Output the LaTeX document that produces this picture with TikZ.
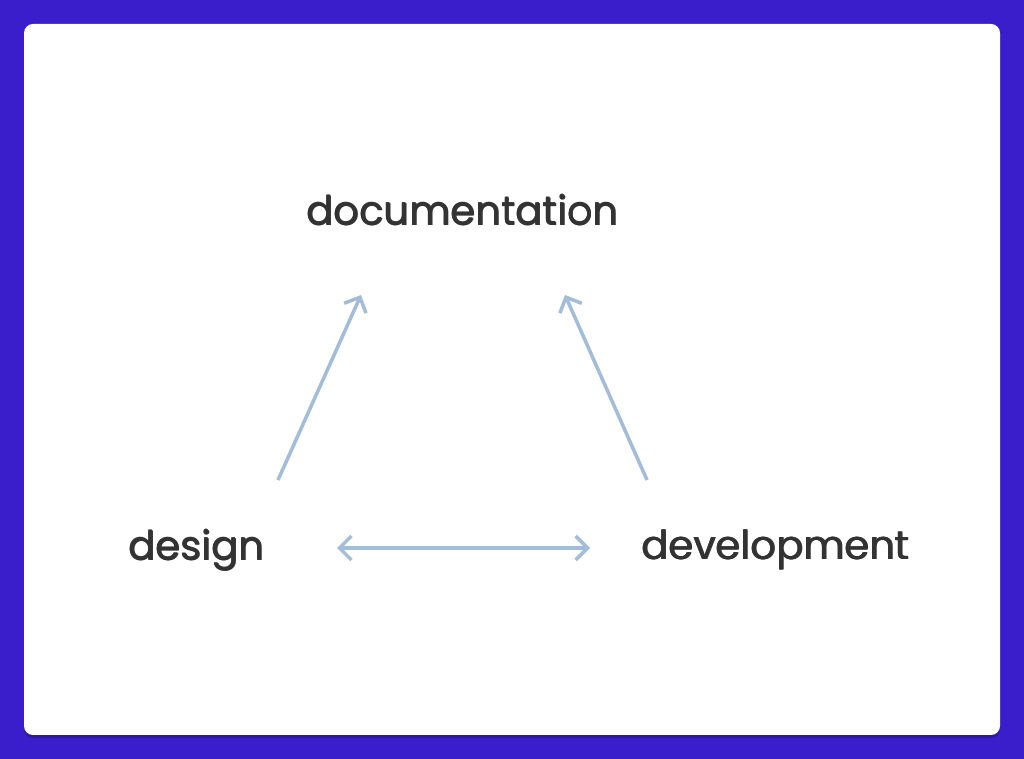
\documentclass[tikz,border=0pt]{standalone}
\usepackage{fontspec}
\newfontfamily\labelfont{Poppins}
\newcommand\heavytext[1]{\rlap{#1}\rlap{\raisebox{0.6pt}{#1}}\hspace{0.9pt}#1}
\usetikzlibrary{arrows.meta}
\definecolor{bgpurple}{HTML}{3A1ECC}
\definecolor{shadowpurple}{HTML}{2E18A6}
\definecolor{arrowblue}{HTML}{A3BCD8}
\definecolor{textgray}{HTML}{333333}
\tikzset{
  label text/.style={text=textgray, font=\labelfont\fontsize{40}{48}\selectfont, inner sep=0pt, anchor=center},
  barb/.tip={Straight Barb[length=12pt,width=24pt,line width=3.5pt]},
  link/.style={draw=arrowblue, line width=3.5pt, -barb},
  biglink/.style={draw=arrowblue, line width=3.5pt, barb-barb}
}
\begin{document}
\begin{tikzpicture}[x=1pt,y=1pt]
\fill[bgpurple] (0,0) rectangle (1024,759);
\useasboundingbox (0,0) rectangle (1024,759);
\fill[shadowpurple, rounded corners=9pt] (24,21) rectangle (1000,733);
\fill[white, rounded corners=9pt] (24,24) rectangle (1000,735);
\node[label text] (doc) at (463,549) {\heavytext{documentation}};
\node[label text] (des) at (197,209) {\heavytext{design}};
\node[label text] (dev) at (776,209) {\heavytext{development}};
\coordinate (a1s) at (278,279);
\coordinate (a1e) at (361,464);
\coordinate (a2s) at (647,279);
\coordinate (a2e) at (565,464);
\coordinate (hs) at (337,211);
\coordinate (he) at (590,211);
\draw[link] (a1s) -- (a1e);
\draw[link] (a2s) -- (a2e);
\draw[biglink] (hs) -- (he);
\end{tikzpicture}
\end{document}
